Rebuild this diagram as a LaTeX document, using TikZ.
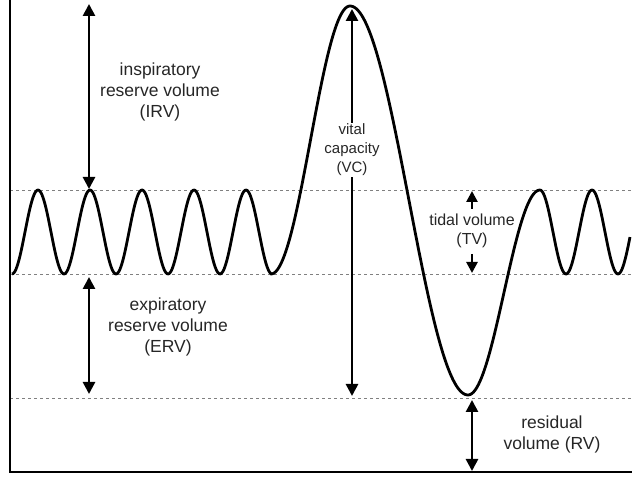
\documentclass[tikz,border=0pt]{standalone}
\usepackage{fontspec}
\setmainfont{Liberation Sans}
\usetikzlibrary{arrows.meta}
\begin{document}
\begin{tikzpicture}[x=1pt,y=-1pt,
  wave/.style={line width=2.8pt,line join=round},
  guide/.style={dashed,gray,line width=0.8pt},
  vol/.style={line width=2.6pt,{Triangle[length=12pt,width=12pt]}-{Triangle[length=12pt,width=12pt]}},
  half/.style={line width=2.6pt,-{Triangle[length=11pt,width=11pt]}},
  lbl/.style={font=\fontsize{17.5}{21}\selectfont,align=center,text=black!85}]
\useasboundingbox (0,0) rectangle (638,478);
\draw[guide] (10,190) -- (632,190);
\draw[guide] (10,274) -- (632,274);
\draw[guide] (10,398) -- (632,398);
\draw[line width=1.8pt] (10,0) -- (10,472) -- (632,472);
\draw[wave] plot[domain=12:271,samples=200] (\x,{232+42*cos(6.923077*(\x-12))})
  -- plot[domain=271:350,samples=60] (\x,{140+134*cos(2.278481*(\x-271))})
  -- plot[domain=350:468,samples=80] (\x,{200.5-194.5*cos(1.525424*(\x-350))})
  -- plot[domain=468:540,samples=50] (\x,{292.5+102.5*cos(2.5*(\x-468))})
  -- plot[domain=540:630,samples=80] (\x,{232-42*cos(6.923077*(\x-540))});
\coordinate (irvT) at (89,4); \coordinate (irvB) at (89,189);
\coordinate (ervT) at (89,277); \coordinate (ervB) at (89,394);
\coordinate (vcT) at (352,9); \coordinate (vcB) at (352,396);
\coordinate (tvT0) at (472,209); \coordinate (tvT) at (472,191);
\coordinate (tvB0) at (472,254); \coordinate (tvB) at (472,273);
\coordinate (rvT) at (472,400); \coordinate (rvB) at (472,471);
\draw[vol] (irvT) -- (irvB);
\draw[vol] (ervT) -- (ervB);
\draw[vol] (vcT) -- (vcB);
\draw[vol] (rvT) -- (rvB);
\draw[half] (tvT0) -- (tvT);
\draw[half] (tvB0) -- (tvB);
\node[lbl] (irv) at (160,92) {inspiratory\\reserve volume\\(IRV)};
\node[lbl] (erv) at (168,327) {expiratory\\reserve volume\\(ERV)};
\node[lbl,fill=white,inner sep=1pt,font=\fontsize{15}{19}\selectfont] (vc) at (352,150) {vital\\capacity\\(VC)};
\node[lbl,font=\fontsize{16}{19}\selectfont] (tv) at (472,231) {tidal volume\\(TV)};
\node[lbl] (rv) at (552,434) {residual\\volume (RV)};
\end{tikzpicture}
\end{document}
